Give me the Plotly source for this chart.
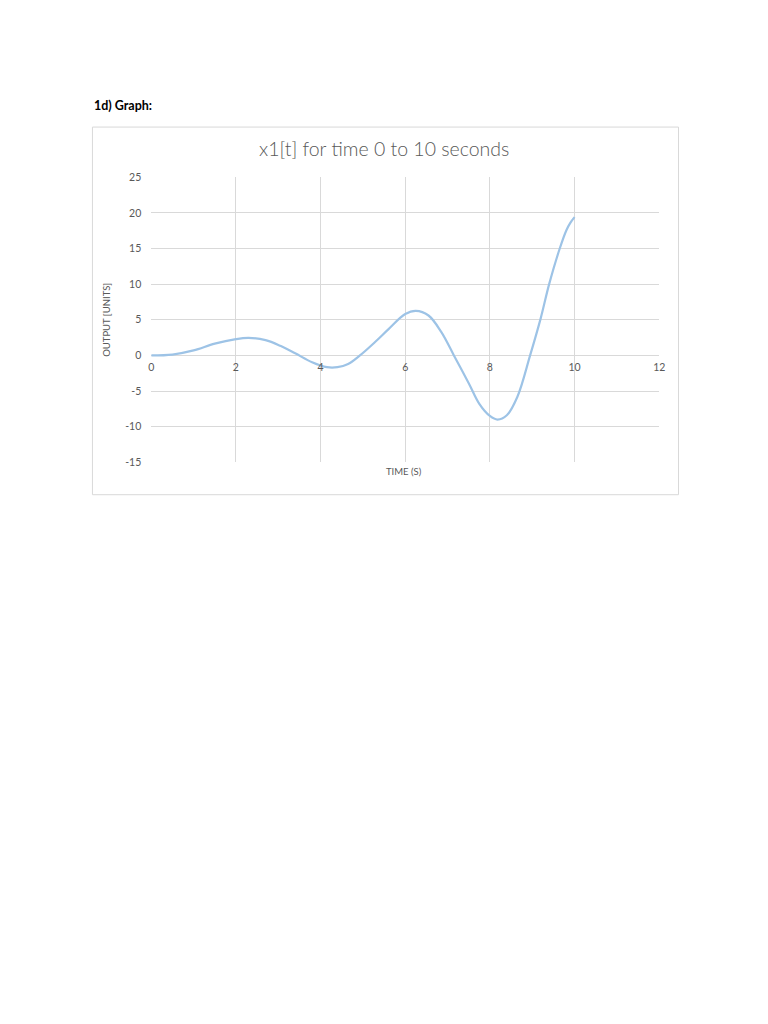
import plotly.graph_objects as go

# values
time_s = [0, 0.5, 1.0, 1.5, 2.0, 2.3, 2.7, 3.05, 3.4, 3.8, 4.15, 4.4, 4.65, 4.93, 5.3, 5.6,
          6.0, 6.25, 6.55, 6.85, 7.15, 7.5, 7.75, 8.0, 8.18, 8.4, 8.65, 8.95,
          9.2, 9.4, 9.65, 9.81, 9.9, 10.0]
output_units = [0, 0.12, 0.7, 1.65, 2.28, 2.45, 2.15, 1.35, 0.3, -0.95, -1.65, -1.65, -1.2, 0.0, 1.95, 3.65,
                5.8, 6.25, 5.6, 3.3, 0.0, -3.9, -6.8, -8.5, -9.0, -8.4, -5.8, 0.0,
                5.2, 10.0, 15.0, 17.6, 18.6, 19.4]
x_ticks = [0, 2, 4, 6, 8, 10, 12]
y_ticks = [-15, -10, -5, 0, 5, 10, 15, 20, 25]

W, H = 768, 1024


def px_x(p):
    return p / W


def px_y(p):
    return 1 - p / H


grey = "#595959"
grid = "#d9d9d9"

fig = go.Figure()
fig.add_trace(go.Scatter(x=time_s, y=output_units, mode="lines",
                         line=dict(color="#9dc3e6", width=2.2, shape="spline", smoothing=1.0),
                         hoverinfo="x+y"))

fig.update_layout(
    width=W, height=H,
    margin=dict(l=0, r=0, t=0, b=0),
    paper_bgcolor="white", plot_bgcolor="white",
    showlegend=False,
    font=dict(family="Lato, Open Sans, sans-serif", color=grey, size=10),
    xaxis=dict(domain=[px_x(150), px_x(664)], range=[0, 12],
               tickvals=x_ticks, ticktext=[str(v) for v in x_ticks],
               showgrid=True, gridcolor=grid, gridwidth=1, zeroline=False,
               showline=False, anchor="free", position=px_y(353.3),
               tickfont=dict(size=10.5, color=grey), ticks="", ticklabelstandoff=4),
    yaxis=dict(domain=[px_y(461.7), px_y(173.3)], range=[-15, 25],
               tickvals=y_ticks, ticktext=[str(v) for v in y_ticks],
               showgrid=True, gridcolor=grid, gridwidth=1,
               zeroline=True, zerolinecolor=grid, zerolinewidth=1,
               showline=False, ticks="", ticklabelstandoff=9,
               tickfont=dict(size=10.5, color=grey),
               title=dict(text="OUTPUT [UNITS]", font=dict(size=9.5, color=grey), standoff=12)),
)

# outer chart border
fig.add_shape(type="rect", xref="paper", yref="paper",
              x0=px_x(90.5), x1=px_x(683.5), y0=px_y(494.5), y1=px_y(122.5),
              line=dict(color="#d9d9d9", width=1), fillcolor="rgba(0,0,0,0)")

fig.add_annotation(text="x1[t] for time 0 to 10 seconds", xref="paper", yref="paper",
                   x=px_x(386), y=px_y(144), xanchor="center", yanchor="middle",
                   showarrow=False, font=dict(size=19.5, color=grey, family="Lato Light, Lato, sans-serif"))
fig.add_annotation(text="TIME (S)", xref="paper", yref="paper",
                   x=px_x(406), y=px_y(471), xanchor="center", yanchor="middle",
                   showarrow=False, font=dict(size=9.5, color=grey))
fig.add_annotation(text="<b>1d) Graph:</b>", xref="paper", yref="paper",
                   x=px_x(90), y=px_y(101), xanchor="left", yanchor="middle",
                   showarrow=False, font=dict(size=12.5, color="black", family="Lato, sans-serif"))

fig.write_html("out.html", config={"displayModeBar": False},
               post_script="document.body.style.margin='0';document.body.style.overflow='hidden';")
